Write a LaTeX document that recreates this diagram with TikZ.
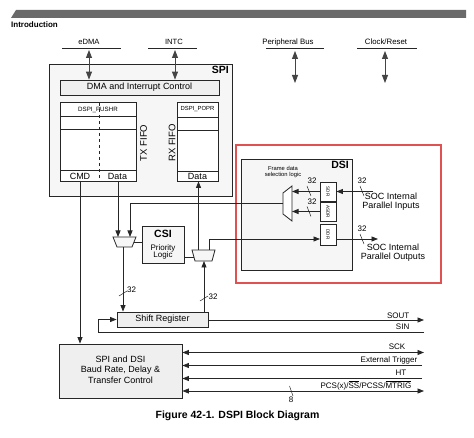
\documentclass[tikz,border=0pt]{standalone}
\usepackage{fontspec}
\setmainfont{Liberation Sans}
\usetikzlibrary{arrows.meta,fit}
\definecolor{lc}{HTML}{262626}
\definecolor{bgA}{HTML}{F6F6F6}
\definecolor{bgB}{HTML}{EFEFEF}
\definecolor{redh}{HTML}{E05252}
\definecolor{barc}{HTML}{6A6A6A}
\definecolor{garr}{HTML}{444444}
\newcommand{\ovl}[1]{$\overline{\hbox{#1}}$}
\begin{document}
\begin{tikzpicture}[x=1pt,y=-1pt,
  fs/.style={font=\fontsize{#1}{#1}\selectfont},
  fsb/.style={font=\bfseries\fontsize{#1}{#1}\selectfont},
  box/.style={draw=lc, line width=0.8pt, inner sep=0pt, fill=#1},
  box/.default=bgB,
  conn/.style={draw=lc, line width=0.8pt},
  arr/.style={conn, -{Triangle[length=6.5pt,width=5pt]}},
  barr/.style={conn, {Triangle[length=6.5pt,width=5pt]}-{Triangle[length=6.5pt,width=5pt]}},
  topbus/.style={draw=garr, line width=0.9pt, {Triangle[length=8pt,width=6pt]}-{Triangle[length=8pt,width=6pt]}},
  busline/.style={draw=lc, line width=0.8pt},
  tick/.style={draw=lc, line width=0.5pt},
  lab/.style={fs=8, inner sep=0.5pt}
]
\useasboundingbox (0,0) rectangle (474,438);
\fill[white] (0,0) rectangle (474,438);

% header bar
\fill[barc] (11,18) -- (16,10) -- (466,10) -- (466,18) -- cycle;
\node[fsb=8, anchor=west, inner sep=0] (intro) at (11,25) {Introduction};

% top buses
\node[fs=7.6, inner sep=1pt] (edma) at (89,42) {eDMA};
\node[fs=7.6, inner sep=1pt] (intc) at (174,42) {INTC};
\node[fs=7.8, inner sep=1pt] (pbus) at (288,42) {Peripheral Bus};
\node[fs=7.8, inner sep=1pt] (clk) at (386,42) {Clock/Reset};
\draw[busline] (62,48) -- (121,48);
\draw[busline] (148,48) -- (197,48);
\draw[busline] (266,48) -- (324,48);
\draw[busline] (357,48) -- (417,48);

% SPI box
\node[box=bgA, fit={(49,64)(232,196)}] (spi) {};
\node[fsb=10.5, anchor=north east, inner sep=0] (spil) at (229,66) {SPI};
\node[box=bgB, fit={(60,80)(219,95)}] (dma) {};
\node[fs=9, inner sep=0] (dmat) at (dma.center) {DMA and Interrupt Control};

\coordinate (edmaT) at (89,50);
\coordinate (intcT) at (175,50);
\draw[topbus] (edmaT) -- (edmaT |- dma.north);
\draw[topbus] (intcT) -- (intcT |- dma.north);
\coordinate (pbT) at (295,51);
\coordinate (pbB) at (295,83);
\coordinate (ckT) at (385,51);
\coordinate (ckB) at (385,83);
\draw[topbus] (pbT) -- (pbB);
\draw[topbus] (ckT) -- (ckB);

% TX FIFO
\node[box=white, fit={(60,102)(136,181)}] (tx) {};
\draw[conn] (60,116) -- (136,116);
\draw[conn] (60,129) -- (136,129);
\draw[conn] (60,170) -- (136,170);
\draw[draw=lc, line width=0.6pt, dash pattern=on 3.5pt off 2.5pt] (99,103) -- (99,181);
\node[fs=6.2] (pushr) at (98,109.5) {DSPI\_PUSHR};
\node[fs=9] (cmd) at (80,176) {CMD};
\node[fs=9] (txdata) at (117.5,176) {Data};
\node[fs=9.5, rotate=90] (txf) at (143.5,143) {TX FIFO};

% RX FIFO
\node[box=white, fit={(177,102)(218,181)}] (rx) {};
\draw[conn] (177,117) -- (218,117);
\draw[conn] (177,130) -- (218,130);
\draw[conn] (177,171) -- (218,171);
\node[fs=5.9] (popr) at (197.5,109.5) {DSPI\_POPR};
\node[fs=9] (rxdata) at (197.5,176.5) {Data};
\node[fs=9.5, rotate=90] (rxf) at (172,143) {RX FIFO};

% red highlight and DSI
\draw[redh, line width=1.8pt] (236,145) rectangle (441,283);
\node[box=bgA, fit={(241,159)(352,270)}] (dsi) {};
\node[fsb=10.5, anchor=north east, inner sep=0] (dsil) at (349,161) {DSI};
\node[fs=5.8, align=center, inner sep=0] (fdsl) at (283,172) {Frame data\\[-0.5pt]selection logic};

\node[box=white, fit={(320,182)(336,201)}] (sdr) {};
\node[box=white, fit={(320,202)(336,221)}] (asdr) {};
\node[box=white, fit={(320,224)(336,245)}] (ddr) {};
\node[fs=4.6, rotate=-90] at (sdr.center) {SDR};
\node[fs=4.6, rotate=-90] at (asdr.center) {ASDR};
\node[fs=4.6, rotate=-90] at (ddr.center) {DDR};

% DSI mux
\draw[conn, fill=white] (283,193) -- (292,186) -- (292,221) -- (283,214) -- cycle;
\coordinate (dmuxO) at (283,203.5);
\coordinate (dmuxA) at (292,191.5);
\coordinate (dmuxB) at (292,211.5);
\draw[arr] (sdr.west) -- (dmuxA);
\draw[arr] (asdr.west) -- (dmuxB);
\node[lab] at (312,181) {32};
\node[lab] at (312,201.5) {32};
\draw[tick] (307,186) -- (311,196);
\draw[tick] (307,206.5) -- (311,216.5);

% SOC in/out
\coordinate (socin) at (373,191.5);
\draw[arr] (socin) -- (sdr.east);
\node[lab] at (362,181) {32};
\draw[tick] (360,186) -- (364,196);
\node[fs=9, align=center, inner sep=0] (socinl) at (391,202) {SOC Internal\\[-0.3pt]Parallel Inputs};
\coordinate (ddrI) at (320,239);
\coordinate (ddrO) at (336,239);
\coordinate (socout) at (378,239);
\draw[arr] (ddrO) -- (socout);
\node[lab] at (362,228.5) {32};
\draw[tick] (360,234) -- (364,244);
\node[fs=9, align=center, inner sep=0] (socoutl) at (393,253) {SOC Internal\\[-0.3pt]Parallel Outputs};

% CSI
\node[box=bgA, fit={(142,226)(184,263)}] (csi) {};
\node[fsb=10.5, inner sep=0] (csil) at (163,233.5) {CSI};
\node[fs=8, align=center, inner sep=0] (csit) at (163,252) {Priority\\[-0.5pt]Logic};

% left mux
\draw[conn, fill=bgA] (113,237) -- (136,237) -- (132,247) -- (117,247) -- cycle;
\coordinate (lmA) at (118,237);
\coordinate (lmB) at (130,237);
\coordinate (lmO) at (123,247);
\coordinate (lmR) at (134,242);
% right mux
\draw[conn, fill=bgA] (192,250) -- (215,250) -- (212,261) -- (195,261) -- cycle;
\coordinate (rmO) at (198.5,250);
\coordinate (rmI) at (209,250);
\coordinate (rmB) at (204,261);
\coordinate (rmL) at (194,257);

% shift register
\node[box=bgB, fit={(117,312)(208,327)}] (shr) {};
\node[fs=9, inner sep=0] (shrt) at (shr.center) {Shift Register};

% bottom control box
\node[box=bgB, fit={(59,344)(182,398)}] (ctl) {};
\node[fs=9, align=center, inner sep=0] (ctlt) at (120.5,369.5) {SPI and DSI\\[1.6pt]Baud Rate, Delay \&\\[1.6pt]Transfer Control};

% connectors inside SPI area
\coordinate (cmdB) at (80,181);
\coordinate (dataB) at (118,181);
\draw[arr] (cmdB) -- (cmdB |- ctl.north);
\draw[arr] (dataB) -- (lmA);
\draw[arr] (dmuxO) -- (dmuxO -| lmB) -- (lmB);
\draw[conn] (lmR) -- (lmR -| csi.west);
\draw[conn] (rmL -| csi.east) -- (rmL);
\draw[arr] (rmO) -- (rmO |- rx.south);
\draw[arr] (rmI) -- (rmI |- ddrI) -- (ddrI);
\draw[arr] (rmB |- shr.north) -- (rmB);
\draw[arr] (lmO) -- (lmO |- shr.north);
\node[lab] at (131.5,289.5) {32};
\draw[tick] (119,296) -- (127,291);
\node[lab] at (213,296.5) {32};
\draw[tick] (200,301) -- (208,296);

% SOUT / SIN
\coordinate (soutR) at (424,320);
\draw[arr] (shr.east |- soutR) -- (soutR);
\coordinate (sinR) at (424,332);
\coordinate (sinL) at (98,332);
\coordinate (sinE) at (98,319.5);
\draw[arr] (sinR) -- (sinL) -- (sinE) -- (sinE -| shr.west);
\node[lab, anchor=east] at (410,315.5) {SOUT};
\node[lab, anchor=east] at (410,327) {SIN};

% control signals
\coordinate (sckR) at (424,352.5);
\coordinate (extR) at (422,365.5);
\coordinate (htR) at (422,378.5);
\coordinate (pcsR) at (424,391);
\draw[barr] (sckR) -- (sckR -| ctl.east);
\draw[arr] (extR) -- (extR -| ctl.east);
\draw[arr] (htR) -- (htR -| ctl.east);
\draw[barr] (pcsR) -- (pcsR -| ctl.east);
\node[lab, anchor=east] at (406,347) {SCK};
\node[lab, anchor=east] at (418,360) {External Trigger};
\node[lab, anchor=east] at (407,372.5) {HT};
\node[lab, anchor=east] at (412,385.5) {PCS(x)/\ovl{SS}/PCSS/\ovl{MTRIG}};
\draw[tick] (289.5,386) -- (293,396);
\node[lab] at (291,399.5) {8};

% caption
\node[fsb=10.5, inner sep=0] (cap) at (237.5,416) {Figure 42-1. DSPI Block Diagram};
\end{tikzpicture}
\end{document}
